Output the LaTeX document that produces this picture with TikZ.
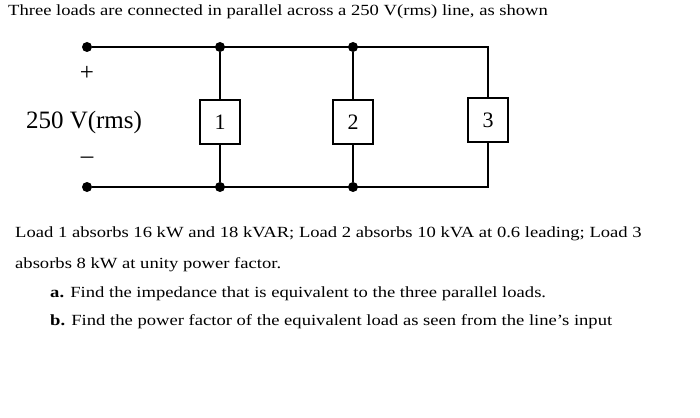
\documentclass[tikz,border=0pt]{standalone}
\usepackage{fontspec}
\setmainfont{Liberation Serif}
\newfontfamily\wideserif[FakeStretch=1.2]{Liberation Serif}
\begin{document}
\begin{tikzpicture}[x=1pt,y=-1pt,
  wire/.style={line width=1.6pt},
  dot/.style={circle,fill=black,inner sep=0pt,minimum size=10pt},
  load/.style={draw,line width=2pt,minimum width=40pt,minimum height=44pt,fill=white,font=\fontsize{22}{24}\selectfont},
  big/.style={font=\fontsize{25}{28}\selectfont},
  txt/.style={anchor=west,inner sep=0pt,font=\wideserif\fontsize{15.5}{17}\selectfont}]
\useasboundingbox (0,0) rectangle (700,417);
\node[txt] (t0) at (8,12) {Three loads are connected in parallel across a 250 V(rms) line, as shown};
\node[dot] (a0) at (87,47) {};
\node[dot] (a1) at (220,47) {};
\node[dot] (a2) at (353,47) {};
\coordinate (a3) at (488,47);
\node[dot] (b0) at (87,187) {};
\node[dot] (b1) at (220,187) {};
\node[dot] (b2) at (353,187) {};
\coordinate (b3) at (488,187);
\node[load] (l1) at (220,122) {1};
\node[load] (l2) at (353,122) {2};
\node[load] (l3) at (488,120) {3};
\draw[wire] (a0) -- (a3) -- (l3) -- (b3) -- (b0);
\draw[wire] (a1) -- (l1) -- (b1);
\draw[wire] (a2) -- (l2) -- (b2);
\node[big] (p) at (87,73) {+};
\node[big] (v) at (84,122) {250 V(rms)};
\node[big] (m) at (87,160) {--};
\node[txt] (t1) at (15,234) {Load 1 absorbs 16 kW and 18 kVAR; Load 2 absorbs 10 kVA at 0.6 leading; Load 3};
\node[txt] (t2) at (15,265) {absorbs 8 kW at unity power factor.};
\node[txt] (t3) at (50,294) {\textbf{a.} Find the impedance that is equivalent to the three parallel loads.};
\node[txt] (t4) at (50,322) {\textbf{b.} Find the power factor of the equivalent load as seen from the line’s input};
\end{tikzpicture}
\end{document}
